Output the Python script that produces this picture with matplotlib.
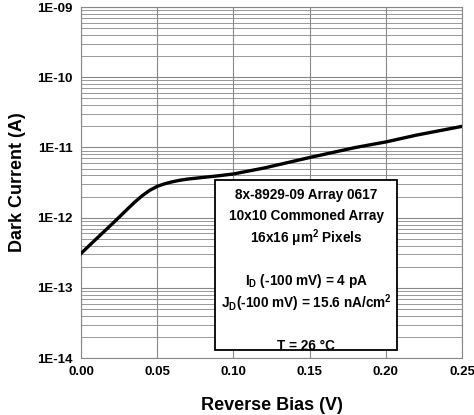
import math
import matplotlib
matplotlib.use("Agg")
import matplotlib.pyplot as plt
from matplotlib.patches import Rectangle
from matplotlib.ticker import FixedLocator, LogLocator, NullFormatter, FuncFormatter

# Dark current vs reverse bias
bias = [0.00, 0.01, 0.02, 0.03, 0.035, 0.04, 0.045, 0.05, 0.055, 0.06, 0.065,
        0.07, 0.08, 0.09, 0.10, 0.12, 0.15, 0.18, 0.20, 0.22, 0.25]
current = [3.1e-13, 5.0e-13, 8.0e-13, 1.3e-12, 1.65e-12, 2.05e-12, 2.45e-12,
           2.8e-12, 3.05e-12, 3.25e-12, 3.42e-12, 3.55e-12, 3.75e-12,
           3.95e-12, 4.2e-12, 5.1e-12, 7.2e-12, 1.0e-11, 1.2e-11, 1.5e-11,
           2.0e-11]

x_ticks = [0.00, 0.05, 0.10, 0.15, 0.20, 0.25]
box_lines = ["8x-8929-09 Array 0617",
             "10x10 Commoned Array",
             r"16x16 $\mu$m$^2$ Pixels",
             "",
             r"I$_\mathrm{D}$ (-100 mV) = 4 pA",
             r"J$_\mathrm{D}$(-100 mV) = 15.6 nA/cm$^2$",
             "",
             "T = 26 \u00b0C"]

plt.rcParams['font.family'] = ['Liberation Sans', 'DejaVu Sans']
plt.rcParams['mathtext.fontset'] = 'custom'
plt.rcParams['mathtext.rm'] = 'Liberation Sans:bold'
plt.rcParams['mathtext.it'] = 'Liberation Sans:bold'
plt.rcParams['mathtext.default'] = 'rm'

fig = plt.figure(figsize=(4.74, 4.15), dpi=100)
ax = fig.add_axes([0.171, 0.137, 0.804, 0.846])

ax.set_yscale('log')
ax.set_xlim(0, 0.25)
ax.set_ylim(1e-14, 1e-9)

ax.plot(bias, current, color='black', lw=2.4, zorder=3, solid_joinstyle='round')

# grid
ax.xaxis.set_major_locator(FixedLocator(x_ticks))
ax.yaxis.set_major_locator(LogLocator(base=10, numticks=10))
ax.yaxis.set_minor_locator(LogLocator(base=10, subs=range(2, 10), numticks=10))
ax.yaxis.set_minor_formatter(NullFormatter())
ax.yaxis.set_major_formatter(FuncFormatter(lambda v, p: "1E%+03d" % round(math.log10(v))))
ax.xaxis.set_major_formatter(FuncFormatter(lambda v, p: "%.2f" % v))
ax.grid(True, which='major', axis='both', color='#888888', lw=0.8)
ax.grid(True, which='minor', axis='y', color='#888888', lw=0.6)
ax.tick_params(which='both', length=0, pad=6, labelsize=9.5)
for lbl in ax.get_xticklabels() + ax.get_yticklabels():
    lbl.set_fontweight('bold')
for s in ax.spines.values():
    s.set_color('#888888')
    s.set_linewidth(0.8)

ax.set_xlabel("Reverse Bias (V)", fontsize=13, fontweight='bold', labelpad=13)
ax.set_ylabel("Dark Current (A)", fontsize=13, fontweight='bold', labelpad=8)

# annotation box
ax.add_patch(Rectangle((0.352, 0.023), 0.478, 0.484, transform=ax.transAxes,
                       facecolor='white', edgecolor='black', lw=1.3, zorder=4))
y0 = 0.465
for i, line in enumerate(box_lines):
    if line:
        ax.text(0.591, y0 - i * 0.0615, line, transform=ax.transAxes,
                ha='center', va='center', fontsize=9.8, fontweight='bold', zorder=5)

fig.savefig("out.png", dpi=100)
